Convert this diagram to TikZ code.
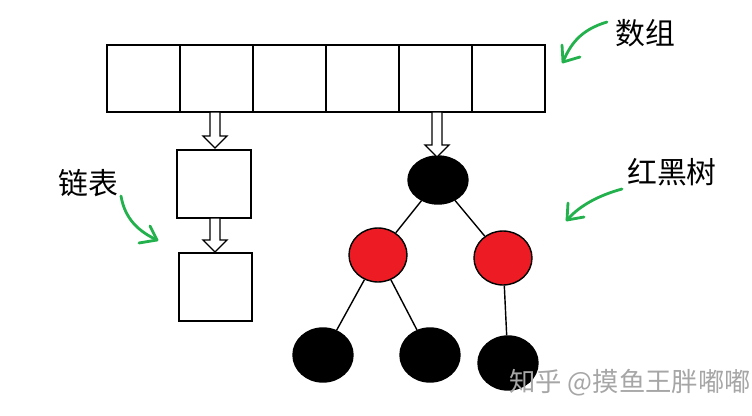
\documentclass[tikz,border=0pt]{standalone}
\usepackage{fontspec}
\newfontfamily\cjk{Noto Sans CJK SC}
\usetikzlibrary{arrows,shapes.geometric}
\definecolor{treered}{RGB}{237,28,36}
\definecolor{markgreen}{RGB}{34,177,76}
\newcommand{\hollowdown}[3]{% x, top y, bottom y
  \draw[thick,fill=white] (#1-5,#2) -- (#1+5,#2) -- (#1+5,#3-12) -- (#1+12,#3-12)
    -- (#1,#3) -- (#1-12,#3-12) -- (#1-5,#3-12) -- cycle;}
\begin{document}
\begin{tikzpicture}[x=0.02cm,y=-0.02cm,
    cell/.style={draw,thick,minimum width=73*0.02cm,minimum height=67*0.02cm,inner sep=0pt},
    rbnode/.style={draw,thick,ellipse,minimum width=58*0.02cm,minimum height=54*0.02cm,inner sep=0pt},
    blacknode/.style={rbnode,fill=black},
    rednode/.style={rbnode,fill=treered},
    edge/.style={thick},
    greenmark/.style={markgreen,line width=1.6pt,line cap=round},
    label/.style={font=\cjk\fontsize{17}{17}\selectfont}]
  \useasboundingbox (0,0) rectangle (752,416);
  % array
  \foreach \i in {0,...,5}
    \node[cell] (c\i) at (143.5+73*\i,78.5) {};
  % linked list
  \node[cell,minimum width=74*0.02cm,minimum height=68*0.02cm] (l1) at (214,184) {};
  \node[cell,minimum width=73*0.02cm,minimum height=68*0.02cm] (l2) at (215.5,287) {};
  % tree
  \node[blacknode,minimum width=60*0.02cm,minimum height=48*0.02cm] (root) at (438,180) {};
  \node[rednode] (r1) at (378,255) {};
  \node[rednode] (r2) at (503,258) {};
  \node[blacknode,minimum width=60*0.02cm] (b1) at (323,355) {};
  \node[blacknode,minimum width=60*0.02cm] (b2) at (430,355) {};
  \node[blacknode,minimum width=60*0.02cm] (b3) at (508,363) {};
  \draw[edge] (root) -- (r1);
  \draw[edge] (root) -- (r2);
  \draw[edge] (r1) -- (b1);
  \draw[edge] (r1) -- (b2);
  \draw[edge] (r2) -- (b3);
  % hollow arrows
  \hollowdown{215}{112}{148}
  \hollowdown{215}{218}{252}
  \hollowdown{437}{112}{157}
  % labels
  \node[label] (tarr) at (645,33) {数组};
  \node[label] (tlist) at (88,183) {链表};
  \node[label] (ttree) at (672,172) {红黑树};
  \draw[greenmark] (607,22) .. controls (580,30) and (570,45) .. (563,62);
  \draw[greenmark] (563,62) -- (562,45);
  \draw[greenmark] (563,62) -- (580,57);
  \draw[greenmark] (121,196) .. controls (125,220) and (140,232) .. (157,240);
  \draw[greenmark] (157,240) -- (139,243);
  \draw[greenmark] (157,240) -- (150,226);
  \draw[greenmark] (622,189) .. controls (600,195) and (580,205) .. (567,220);
  \draw[greenmark] (567,220) -- (568,203);
  \draw[greenmark] (567,220) -- (584,217);
  % watermark
  \node[font=\cjk\fontsize{15}{15}\selectfont,text=gray!70] (wm) at (630,383) {知乎 @摸鱼王胖嘟嘟};
\end{tikzpicture}
\end{document}
